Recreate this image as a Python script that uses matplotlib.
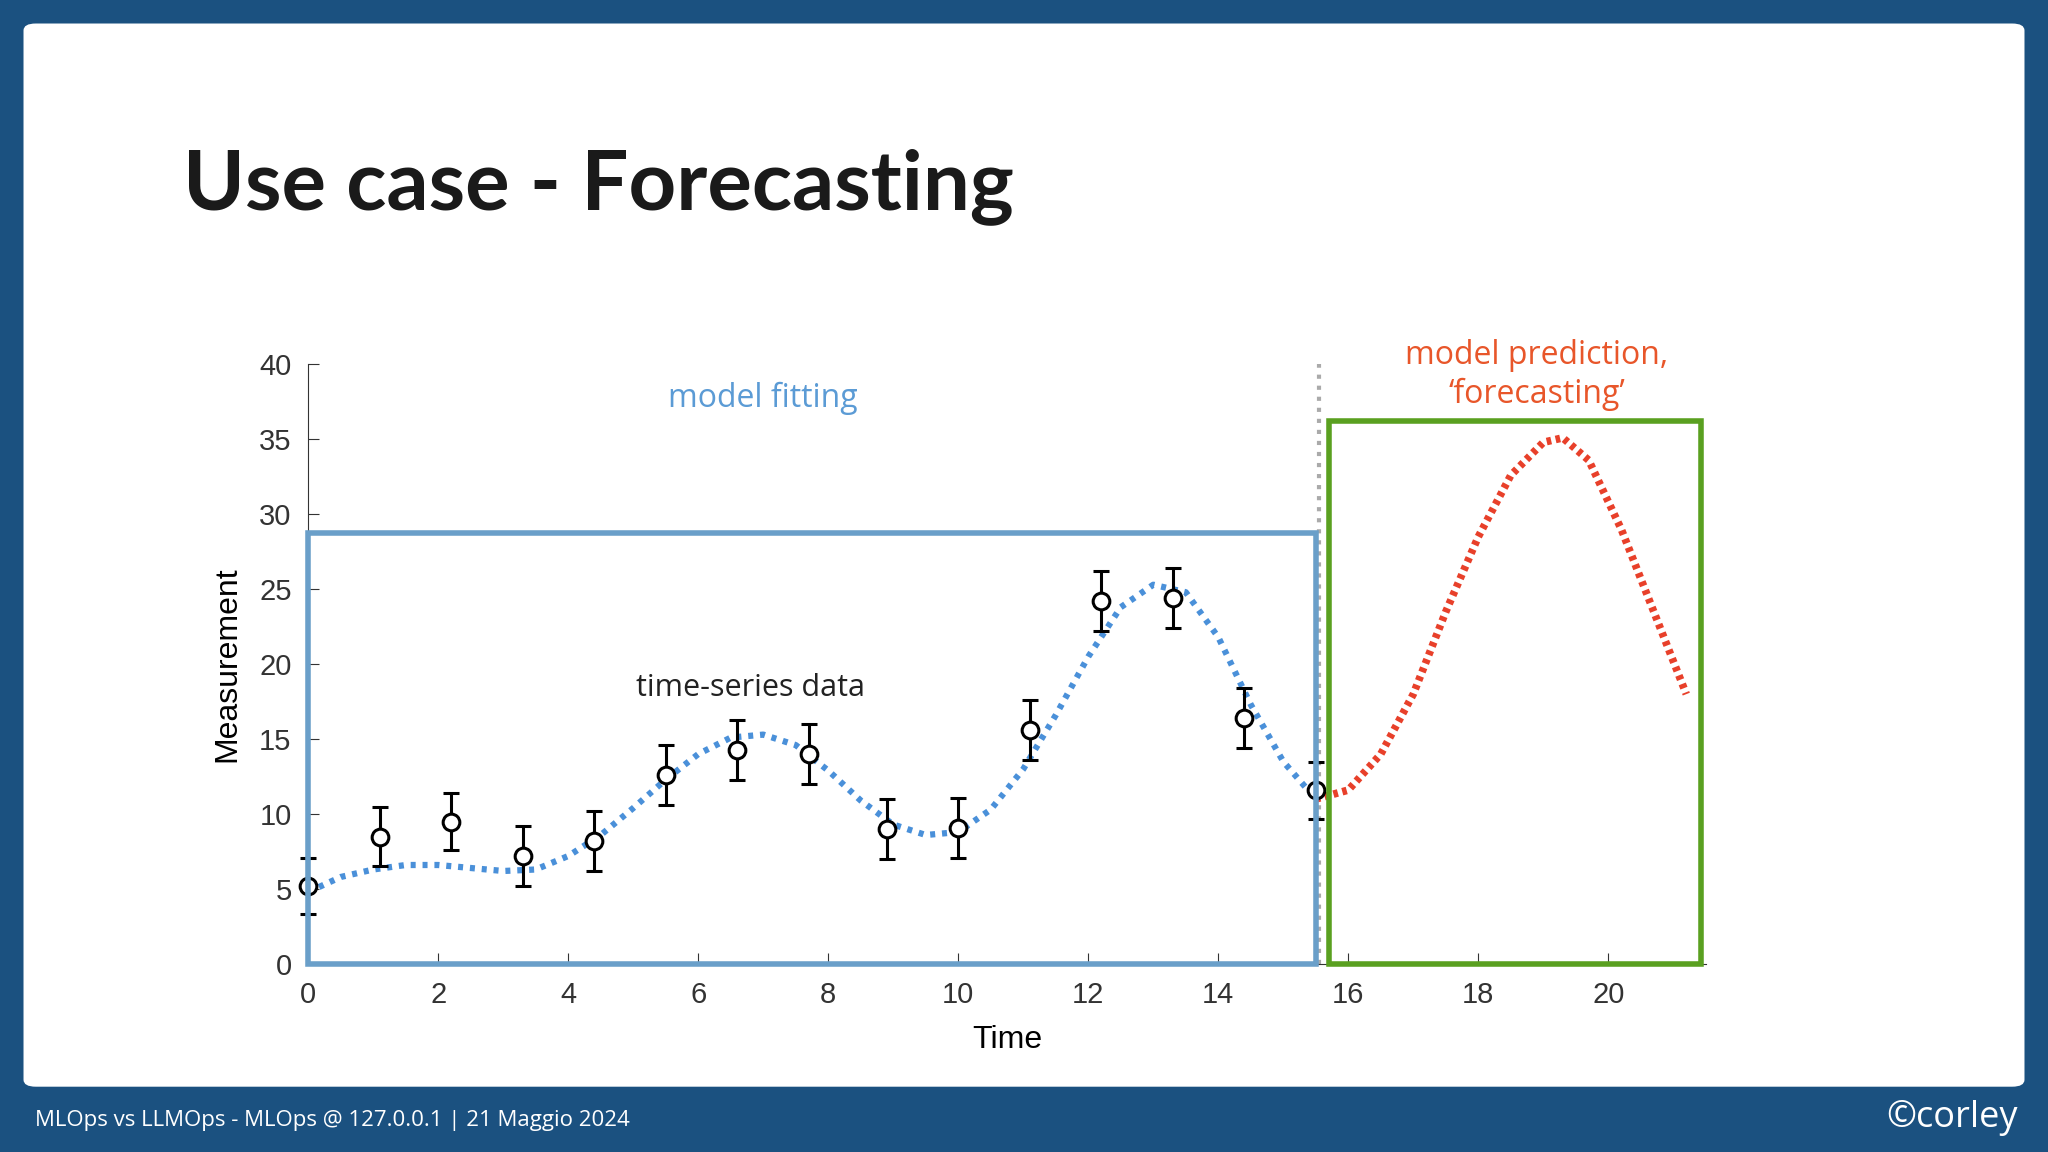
import matplotlib.pyplot as plt
from matplotlib.patches import FancyBboxPatch, Rectangle

# measured points with error bars
t_obs = [0, 1.1, 2.2, 3.3, 4.4, 5.5, 6.6, 7.7, 8.9, 10.0, 11.1, 12.2, 13.3, 14.4, 15.5]
y_obs = [5.2, 8.5, 9.5, 7.2, 8.2, 12.6, 14.3, 14.0, 9.0, 9.1, 15.6, 24.2, 24.4, 16.4, 11.6]
y_err = [1.9, 2.0, 1.9, 2.0, 2.0, 2.0, 2.0, 2.0, 2.0, 2.0, 2.0, 2.0, 2.0, 2.0, 1.9]

# fitted curve
t_fit = [0, 0.5, 1, 1.5, 2, 2.5, 3, 3.5, 4, 4.5, 5, 5.5, 6, 6.5, 7, 7.5, 8, 8.5, 9,
         9.5, 10, 10.5, 11, 11.5, 12, 12.5, 13, 13.5, 14, 14.5, 15, 15.5]
y_fit = [4.8, 5.8, 6.3, 6.6, 6.6, 6.4, 6.2, 6.3, 7.2, 8.6, 10.4, 12.3, 14.0, 15.1, 15.3,
         14.6, 12.9, 10.9, 9.3, 8.6, 8.8, 10.3, 13.0, 16.6, 20.5, 23.8, 25.3, 24.8, 21.8, 17.3, 13.5, 11.0]

# forecast curve
t_pred = [15.5, 16.0, 16.5, 17.0, 17.5, 18.0, 18.5, 19.0, 19.3, 19.7, 20.2, 20.7, 21.2]
y_pred = [11.0, 11.6, 14.0, 18.0, 23.5, 28.5, 32.6, 34.8, 35.1, 33.6, 29.0, 23.5, 18.0]

W, H = 1568, 882
fig = plt.figure(figsize=(20.48, 11.52), dpi=100)
fig.patch.set_facecolor("#1b5180")
card = FancyBboxPatch((18 / W, 1 - 832 / H), 1532 / W, 814 / H,
                      boxstyle="round,pad=0,rounding_size=0.006",
                      transform=fig.transFigure, facecolor="white",
                      edgecolor="none", zorder=-10)
fig.add_artist(card)
fig.text(140 / W, 1 - 143 / H, "Use case - Forecasting", fontsize=60, fontweight="bold",
         family="Lato", color="#1a1a1a", va="center")
fig.text(27 / W, 1 - 858 / H, "MLOps vs LLMOps - MLOps @ 127.0.0.1 | 21 Maggio 2024",
         fontsize=16, family="Open Sans", color="white", va="center")
fig.text(1545 / W, 1 - 856 / H, "©corley", fontsize=26, family="Open Sans", color="white",
         va="center", ha="right")

ax = fig.add_axes([236 / W, 1 - 738 / H, (1306 - 236) / W, (738 - 279) / H])
ax.set_zorder(5)
ax.set_facecolor("none")
ax.set_xlim(0, 21.5)
ax.set_ylim(0, 40)
for s in ["top", "right"]:
    ax.spines[s].set_visible(False)
ax.spines["left"].set_color("#333333")
ax.spines["bottom"].set_color("#333333")
ax.set_xticks(range(0, 21, 2))
ax.set_yticks(range(0, 41, 5))
ax.tick_params(direction="in", length=8, labelsize=21, colors="#333333", pad=12)
for lab in ax.get_xticklabels() + ax.get_yticklabels():
    lab.set_family("Liberation Sans")
ax.set_xlabel("Time", fontsize=23, family="Liberation Sans", labelpad=12)
ax.set_ylabel("Measurement", fontsize=23, family="Liberation Sans", labelpad=12)

ax.plot(t_fit, y_fit, color="#4a90d9", lw=4.5, ls=(0, (0.8, 1.1)), zorder=2)
ax.plot(t_pred, y_pred, color="#e8402a", lw=5.5, ls=(0, (0.6, 0.6)), zorder=2)
ax.errorbar(t_obs, y_obs, yerr=y_err, fmt="o", mfc="white", mec="black", mew=2.2, ms=12,
            ecolor="black", elinewidth=2.2, capsize=6, capthick=2.2, zorder=3, clip_on=False)

ax.plot([15.55, 15.55], [0, 40], ":", color="#aaaaaa", lw=3, zorder=1, clip_on=False)
ax.add_patch(Rectangle((0, 0), 15.5, 28.75, fill=False, edgecolor="#6a9fc9", lw=4,
                       zorder=4, clip_on=False))
ax.add_patch(Rectangle((15.7, 0), 5.73, 36.2, fill=False, edgecolor="#5aa020", lw=4,
                       zorder=4, clip_on=False))

ax.text(7.0, 37.7, "model fitting", color="#5b9bd5", fontsize=23, family="Open Sans",
        ha="center", va="center")
ax.text(6.8, 18.4, "time-series data", color="#222222", fontsize=22, family="Open Sans",
        ha="center", va="center")
ax.text(18.9, 39.3, "model prediction,\n\u2018forecasting\u2019", color="#e8562a", fontsize=23,
        family="Open Sans", ha="center", va="center", linespacing=1.2, clip_on=False)

fig.savefig("out.png", dpi=100, facecolor=fig.get_facecolor())
